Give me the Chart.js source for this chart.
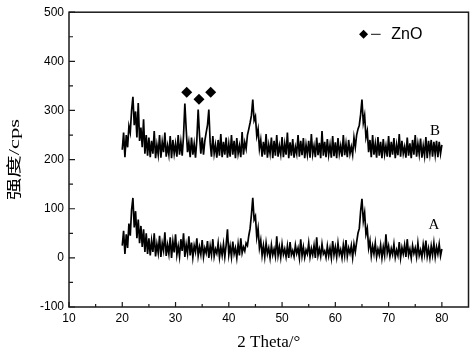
<!DOCTYPE html>
<html><head><meta charset="utf-8">
<script src="https://cdn.jsdelivr.net/npm/chart.js@4/dist/chart.umd.min.js"></script>
<style>html,body{margin:0;padding:0;background:#fff}#wrap{width:474px;height:353px}</style>
</head><body><div id="wrap"><canvas id="c" width="474" height="353"></canvas></div>
<script>
const theta = [
20,20.25,20.5,20.75,21,21.25,21.5,21.75,22,22.25,22.5,22.75,23,23.25,23.5,23.75,24,24.25,24.5,24.75,
25,25.25,25.5,25.75,26,26.25,26.5,26.75,27,27.25,27.5,27.75,28,28.25,28.5,28.75,29,29.25,29.5,29.75,
30,30.25,30.5,30.75,31,31.25,31.5,31.75,32,32.25,32.5,32.75,33,33.25,33.5,33.75,34,34.25,34.5,34.75,
35,35.25,35.5,35.75,36,36.25,36.5,36.75,37,37.25,37.5,37.75,38,38.25,38.5,38.75,39,39.25,39.5,39.75,
40,40.25,40.5,40.75,41,41.25,41.5,41.75,42,42.25,42.5,42.75,43,43.25,43.5,43.75,44,44.25,44.5,44.75,
45,45.25,45.5,45.75,46,46.25,46.5,46.75,47,47.25,47.5,47.75,48,48.25,48.5,48.75,49,49.25,49.5,49.75,
50,50.25,50.5,50.75,51,51.25,51.5,51.75,52,52.25,52.5,52.75,53,53.25,53.5,53.75,54,54.25,54.5,54.75,
55,55.25,55.5,55.75,56,56.25,56.5,56.75,57,57.25,57.5,57.75,58,58.25,58.5,58.75,59,59.25,59.5,59.75,
60,60.25,60.5,60.75,61,61.25,61.5,61.75,62,62.25,62.5,62.75,63,63.25,63.5,63.75,64,64.25,64.5,64.75,
65,65.25,65.5,65.75,66,66.25,66.5,66.75,67,67.25,67.5,67.75,68,68.25,68.5,68.75,69,69.25,69.5,69.75,
70,70.25,70.5,70.75,71,71.25,71.5,71.75,72,72.25,72.5,72.75,73,73.25,73.5,73.75,74,74.25,74.5,74.75,
75,75.25,75.5,75.75,76,76.25,76.5,76.75,77,77.25,77.5,77.75,78,78.25,78.5,78.75,79,79.25,79.5,79.75,
80];
const seriesA = [
25,55,8,48,20,70,45,98,122,62,95,40,78,30,65,22,58,12,50,8,
40,5,35,12,50,3,28,10,45,2,30,15,52,4,26,8,42,0,33,11,
48,6,24,3,38,14,50,2,27,9,44,5,31,1,25,12,40,4,22,7,
36,2,20,10,34,0,24,6,38,3,18,9,30,1,22,5,28,2,26,58,
6,24,2,33,8,20,0,28,5,40,10,22,14,30,25,45,60,88,122,78,
85,42,60,20,36,5,25,2,30,8,20,0,26,6,18,3,44,5,22,1,
28,7,18,2,24,0,32,6,15,3,26,9,20,0,38,4,22,1,16,8,
30,2,19,6,25,0,42,5,18,3,28,8,14,1,24,4,20,0,34,6,
22,2,30,7,17,0,26,5,36,3,20,9,25,1,28,12,32,50,60,95,
120,75,92,48,60,20,35,4,24,8,30,2,18,6,26,0,22,5,48,10,
24,3,19,7,28,1,16,5,32,0,21,8,26,2,38,6,18,0,25,9,
20,2,30,5,16,1,27,8,35,3,19,0,24,6,30,2,22,8,28,4,
18];
const seriesB = [
220,255,205,250,225,268,255,300,328,270,298,245,315,238,265,225,282,212,250,208,
245,205,238,212,258,203,230,210,250,204,236,215,255,206,228,210,248,203,240,212,
232,206,250,210,236,208,248,314,262,215,235,205,245,210,232,204,240,302,250,212,
245,210,238,255,270,302,235,206,248,212,230,204,240,208,252,205,236,210,245,204,
232,206,250,210,238,203,244,212,228,205,256,210,235,222,250,262,275,290,322,280,
288,248,262,222,240,206,236,210,252,204,230,212,245,203,238,208,250,206,228,211,
246,205,232,210,255,203,235,208,242,204,226,212,250,206,238,209,244,203,230,210,
238,204,252,211,228,205,245,209,234,203,258,208,236,205,242,210,230,204,248,207,
235,203,244,212,228,206,250,209,232,205,240,212,226,210,245,225,250,262,270,292,
322,275,290,245,258,215,240,205,250,210,232,204,246,208,236,203,242,211,228,206,
248,205,236,210,244,203,230,209,252,206,238,212,226,204,245,208,233,203,240,210,
250,206,232,211,243,204,228,208,246,203,238,212,240,206,236,210,238,205,236,212,
230];
const znoTheta = [32.1, 34.4, 36.6];
const znoY = [337, 323, 337];
const legendMarkTheta = [65.3];
const legendMarkY = [455];
const legendLineTheta = [66.7, 68.5];
const legendLineY = [455, 455];
const xTickValues = [10,20,30,40,50,60,70,80];
const yTickValues = [-100,0,100,200,300,400,500];
const xMinorValues = [15,25,35,45,55,65,75];
const yMinorValues = [-50,50,150,250,350,450];
const xTitle = '2 Theta/°';
const yTitle = '强度/cps';
const legendText = 'ZnO';
const curveLabels = ['A','B'];

const toXY = (xs, ys) => xs.map((x,i)=>({x:x, y:ys[i]}));

const framePlugin = {
  id:'frame',
  afterDraw(chart){
    const ctx = chart.ctx, a = chart.chartArea;
    const xs = chart.scales.x, ys = chart.scales.y;
    ctx.save();
    ctx.strokeStyle = '#1a1a1a';
    ctx.lineWidth = 1.5;
    ctx.strokeRect(a.left, a.top, a.right - a.left, a.bottom - a.top);
    ctx.lineWidth = 1.2;
    ctx.beginPath();
    xTickValues.forEach(v=>{const p = xs.getPixelForValue(v); ctx.moveTo(p, a.bottom); ctx.lineTo(p, a.bottom-5);});
    xMinorValues.forEach(v=>{const p = xs.getPixelForValue(v); ctx.moveTo(p, a.bottom); ctx.lineTo(p, a.bottom-3);});
    yTickValues.forEach(v=>{const p = ys.getPixelForValue(v); ctx.moveTo(a.left, p); ctx.lineTo(a.left+6, p);});
    yMinorValues.forEach(v=>{const p = ys.getPixelForValue(v); ctx.moveTo(a.left, p); ctx.lineTo(a.left+4, p);});
    ctx.stroke();
    ctx.fillStyle = '#000';
    ctx.font = '16px "Liberation Sans", Arial, sans-serif';
    ctx.textBaseline = 'middle';
    ctx.textAlign = 'left';
    ctx.fillText(legendText, xs.getPixelForValue(70.5), ys.getPixelForValue(455));
    ctx.font = '15px "Liberation Serif", "Times New Roman", serif';
    ctx.textAlign = 'center';
    ctx.fillText(curveLabels[0], xs.getPixelForValue(78.5), ys.getPixelForValue(66));
    ctx.fillText(curveLabels[1], xs.getPixelForValue(78.7), ys.getPixelForValue(258));
    ctx.save();
    ctx.translate(15, (a.top + a.bottom)/2);
    ctx.rotate(-Math.PI/2);
    ctx.scale(1.5, 1);
    ctx.font = '15px "Liberation Serif", "Noto Sans CJK SC", serif';
    ctx.textAlign = 'center';
    ctx.textBaseline = 'middle';
    ctx.fillText(yTitle, 0, 0);
    ctx.restore();
    ctx.restore();
  }
};

new Chart(document.getElementById('c'), {
  type:'line',
  data:{datasets:[
    {data:toXY(theta, seriesB), borderColor:'#000', borderWidth:1.7, pointRadius:0, tension:0, fill:false},
    {data:toXY(theta, seriesA), borderColor:'#000', borderWidth:1.7, pointRadius:0, tension:0, fill:false},
    {type:'scatter', data:toXY(znoTheta, znoY), pointStyle:'rectRot', pointRadius:5.5, backgroundColor:'#000', borderColor:'#000', borderWidth:0},
    {type:'scatter', data:toXY(legendMarkTheta, legendMarkY), pointStyle:'rectRot', pointRadius:4.5, backgroundColor:'#000', borderColor:'#000', borderWidth:0},
    {data:toXY(legendLineTheta, legendLineY), borderColor:'#111', borderWidth:1, pointRadius:0, showLine:true}
  ]},
  options:{
    responsive:false, animation:false,
    layout:{padding:{left:0, right:3, top:10, bottom:0}},
    plugins:{legend:{display:false}, tooltip:{enabled:false}},
    scales:{
      x:{type:'linear', min:10, max:85,
        afterBuildTicks:s=>{s.ticks = xTickValues.map(v=>({value:v}));},
        afterFit:s=>{s.height = 46;},
        grid:{display:false, drawTicks:false}, border:{display:false},
        ticks:{padding:4, color:'#000', font:{family:'"Liberation Sans", Arial, sans-serif', size:12}, maxRotation:0, autoSkip:false},
        title:{display:true, text:xTitle, color:'#000', padding:{top:0,bottom:0}, font:{family:'"Liberation Serif", "Times New Roman", serif', size:17}}
      },
      y:{type:'linear', min:-100, max:500,
        afterBuildTicks:s=>{s.ticks = yTickValues.map(v=>({value:v}));},
        afterFit:s=>{s.width = 69;},
        grid:{display:false, drawTicks:false}, border:{display:false},
        ticks:{padding:5, color:'#000', font:{family:'"Liberation Sans", Arial, sans-serif', size:12}},
        title:{display:false}
      }
    }
  },
  plugins:[framePlugin]
});
</script></body></html>
